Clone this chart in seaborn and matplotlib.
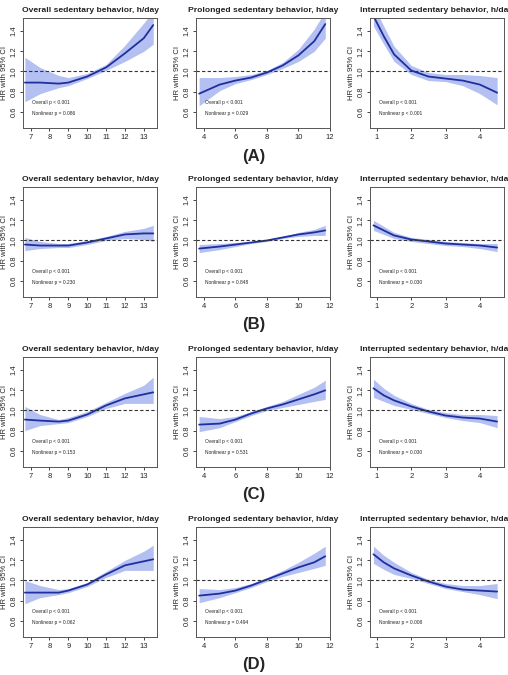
import numpy as np
import pandas as pd
import matplotlib
matplotlib.use("Agg")
import matplotlib.pyplot as plt
import seaborn as sns

sns.set_theme(style="white")
plt.rcParams['font.family'] = ['Liberation Sans', 'DejaVu Sans']

titles = ["Overall sedentary behavior, h/day", "Prolonged sedentary behavior, h/day",
          "Interrupted sedentary behavior, h/day"]
row_labels = ["(A)", "(B)", "(C)", "(D)"]
x_overall = [6.7, 7.5, 8.5, 9.0, 10.0, 11.0, 12.0, 13.0, 13.5]
x_prolonged = [3.7, 5.0, 6.0, 7.0, 8.0, 9.0, 10.0, 11.0, 11.7]
x_interrupted = [0.9, 1.2, 1.5, 2.0, 2.5, 3.0, 3.5, 4.0, 4.5]
xs = [x_overall, x_prolonged, x_interrupted]
xlims = [(6.6, 13.7), (3.5, 12.0), (0.8, 4.7)]
xticks = [[7, 8, 9, 10, 11, 12, 13], [4, 6, 8, 10, 12], [1, 2, 3, 4]]

# HR, lower, upper per row/column
hr = {
 "A": [[0.89,0.89,0.88,0.89,0.95,1.04,1.18,1.33,1.46],
       [0.78,0.87,0.91,0.94,0.99,1.06,1.16,1.30,1.47],
       [1.55,1.35,1.17,1.01,0.95,0.93,0.91,0.87,0.79]],
 "B": [[0.96,0.95,0.95,0.95,0.98,1.02,1.06,1.07,1.07],
       [0.92,0.94,0.96,0.98,1.00,1.03,1.06,1.08,1.10],
       [1.15,1.10,1.05,1.01,0.99,0.97,0.96,0.95,0.93]],
 "C": [[0.91,0.90,0.89,0.90,0.96,1.05,1.12,1.16,1.18],
       [0.86,0.87,0.91,0.97,1.02,1.06,1.11,1.16,1.20],
       [1.22,1.15,1.10,1.04,0.99,0.95,0.93,0.92,0.89]],
 "D": [[0.88,0.88,0.88,0.90,0.96,1.06,1.15,1.19,1.21],
       [0.85,0.87,0.90,0.95,1.01,1.07,1.13,1.18,1.24],
       [1.26,1.18,1.12,1.05,0.99,0.94,0.91,0.90,0.89]],
}
lo = {
 "A": [[0.70,0.78,0.84,0.86,0.93,1.01,1.10,1.20,1.27],
       [0.66,0.81,0.88,0.92,0.97,1.03,1.10,1.20,1.33],
       [1.45,1.27,1.10,0.97,0.91,0.90,0.86,0.78,0.67]],
 "B": [[0.90,0.92,0.93,0.93,0.96,1.00,1.02,1.01,0.99],
       [0.88,0.91,0.94,0.97,0.99,1.02,1.04,1.05,1.05],
       [1.10,1.06,1.02,0.99,0.97,0.95,0.94,0.92,0.89]],
 "C": [[0.80,0.85,0.87,0.88,0.94,1.02,1.07,1.07,1.07],
       [0.79,0.83,0.89,0.95,1.00,1.03,1.06,1.09,1.11],
       [1.13,1.09,1.05,1.01,0.97,0.93,0.90,0.88,0.83]],
 "D": [[0.77,0.83,0.86,0.88,0.94,1.03,1.10,1.10,1.10],
       [0.78,0.83,0.88,0.93,0.99,1.04,1.08,1.12,1.15],
       [1.17,1.11,1.06,1.02,0.97,0.92,0.89,0.86,0.82]],
}
hi = {
 "A": [[1.14,1.04,0.96,0.94,0.98,1.07,1.26,1.48,1.60],
       [0.94,0.94,0.95,0.97,1.01,1.09,1.22,1.42,1.60],
       [1.65,1.45,1.25,1.06,0.99,0.97,0.97,0.96,0.94]],
 "B": [[1.03,0.99,0.97,0.97,1.00,1.04,1.09,1.12,1.15],
       [0.96,0.97,0.98,0.99,1.01,1.04,1.08,1.11,1.15],
       [1.20,1.14,1.08,1.03,1.01,0.99,0.98,0.97,0.97]],
 "C": [[1.04,0.96,0.91,0.93,0.99,1.08,1.17,1.25,1.33],
       [0.94,0.92,0.94,0.99,1.04,1.09,1.16,1.23,1.30],
       [1.31,1.22,1.15,1.07,1.01,0.98,0.96,0.96,0.95]],
 "D": [[1.00,0.95,0.91,0.92,0.98,1.09,1.20,1.29,1.35],
       [0.92,0.91,0.93,0.97,1.03,1.10,1.18,1.27,1.34],
       [1.34,1.25,1.18,1.08,1.01,0.97,0.95,0.95,0.97]],
}
p_overall = {"A": ["< 0.001"]*3, "B": ["< 0.001"]*3, "C": ["< 0.001"]*3, "D": ["< 0.001"]*3}
p_nonlin = {"A": ["= 0.086", "= 0.029", "< 0.001"],
            "B": ["= 0.230", "= 0.848", "= 0.030"],
            "C": ["= 0.153", "= 0.531", "= 0.030"],
            "D": ["= 0.062", "= 0.494", "= 0.008"]}

W, H = 508, 675
fig = plt.figure(figsize=(W/100, H/100), dpi=100)
col_left = [23, 196, 370]
aw, ah = 134, 110
row_top = [18, 187, 357, 527]
band_c = "#b4c0f2"
line_c = "#1f2f9e"

for r, key in enumerate(["A", "B", "C", "D"]):
    for c in range(3):
        l = col_left[c]; t = row_top[r]
        ax = fig.add_axes([l/W, 1-(t+ah)/H, aw/W, ah/H])
        df = pd.DataFrame({"x": xs[c], "hr": hr[key][c], "lo": lo[key][c], "hi": hi[key][c]})
        ax.fill_between(df["x"], df["lo"], df["hi"], color=band_c, lw=0)
        sns.lineplot(data=df, x="x", y="hr", ax=ax, color=line_c, lw=1.3)
        ax.axhline(1.0, color="#333333", ls="--", lw=0.8, dashes=(3, 2))
        ax.set_xlim(*xlims[c]); ax.set_ylim(0.44, 1.53)
        ax.set_xticks(xticks[c]); ax.set_yticks([0.6, 0.8, 1.0, 1.2, 1.4])
        ax.set_yticklabels(["0.6", "0.8", "1.0", "1.2", "1.4"], rotation=90, va="center")
        ax.tick_params(labelsize=5.5, length=2.5, width=0.6, pad=1.5, left=True, bottom=True)
        ax.set_xlabel(""); ax.set_ylabel("HR with 95% CI", fontsize=5.5, labelpad=2)
        for s in ax.spines.values():
            s.set_color("#555555"); s.set_linewidth(0.7)
        ax.set_title(titles[c], fontsize=6.1, fontweight="bold", pad=4, color="#222222")
        ax.text(0.07, 0.22, f"Overall p {p_overall[key][c]}", transform=ax.transAxes, fontsize=3.5)
        ax.text(0.07, 0.12, f"Nonlinear p {p_nonlin[key][c]}", transform=ax.transAxes, fontsize=3.5)
    fig.text(0.5, 1-(row_top[r]+ah+28)/H, row_labels[r], ha="center", va="center",
             fontsize=12, fontweight="bold")

fig.savefig("out.png", dpi=100, facecolor="white")
